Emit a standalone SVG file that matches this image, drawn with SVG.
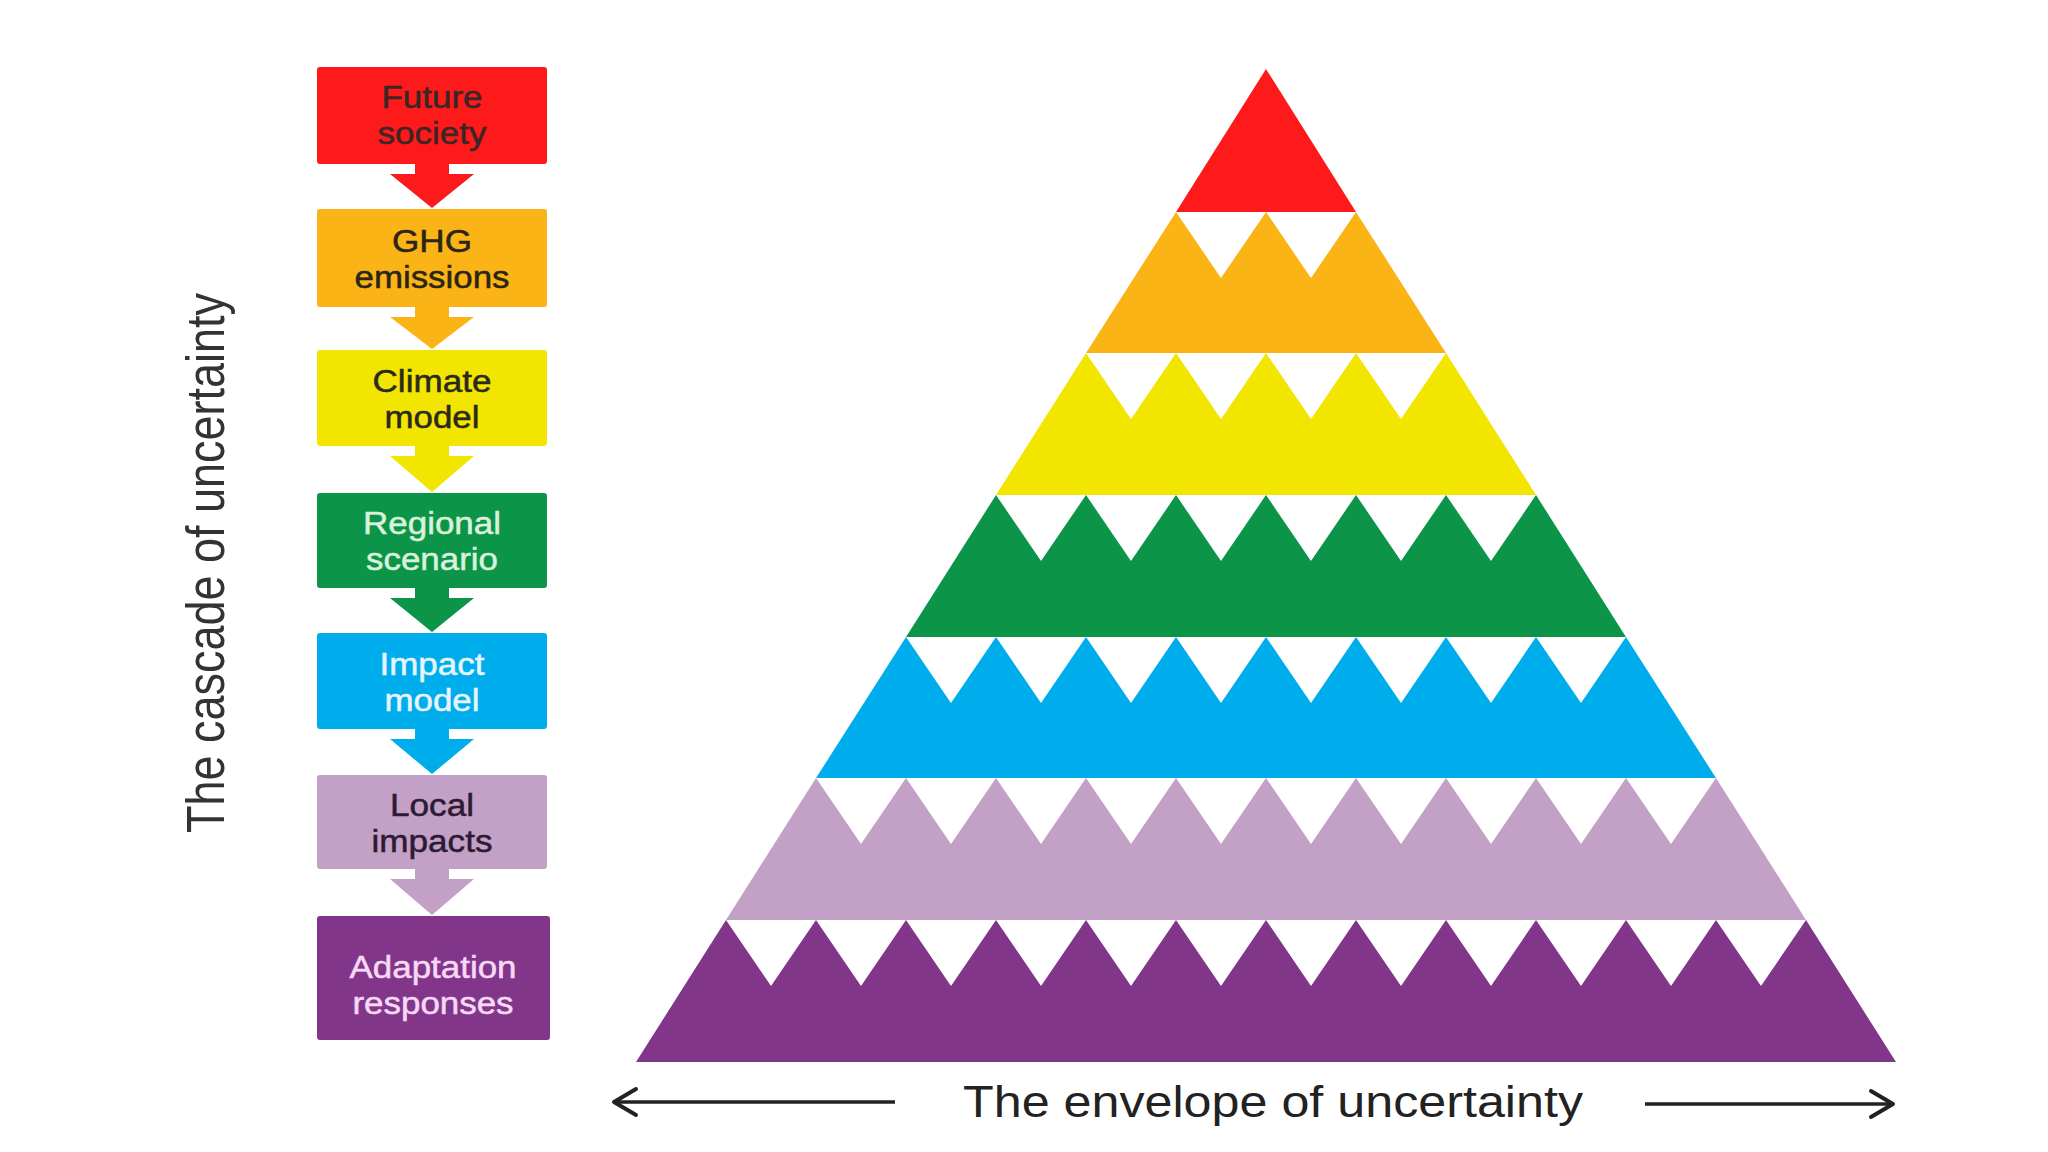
<svg xmlns="http://www.w3.org/2000/svg" width="2048" height="1152" viewBox="0 0 2048 1152">
<defs>
<style>
.box{stroke:none}
.lbl{font-family:"Liberation Sans",Arial,sans-serif;font-size:31px;text-anchor:middle;stroke-width:0.5px}
.big{font-family:"Liberation Sans",Arial,sans-serif;font-size:45px;text-anchor:middle}
.axis{stroke:#222;stroke-width:3.5;fill:none}
.red{fill:#FE1A1A}.org{fill:#FBB416}.yel{fill:#F2E500}.grn{fill:#0C9548}.blu{fill:#00ADEC}.lil{fill:#C3A0C6}.pur{fill:#82368A}
.t1{fill:#3a2626;stroke:#3a2626}.t2{fill:#2b2417;stroke:#2b2417}.t3{fill:#2a2a1a;stroke:#2a2a1a}
.t4{fill:#d9f2dc;stroke:#d9f2dc}.t5{fill:#e6f5fd;stroke:#e6f5fd}.t6{fill:#2d1a33;stroke:#2d1a33}.t7{fill:#f7d9f5;stroke:#f7d9f5}
</style>
<marker id="chev" markerUnits="userSpaceOnUse" markerWidth="40" markerHeight="40" viewBox="-30 -20 40 40" refX="0" refY="0" orient="auto">
<path d="M-22,-13 L0,0 L-22,13" fill="none" stroke="#222" stroke-width="4" stroke-linecap="round" stroke-linejoin="round"/>
</marker>
</defs>
<rect width="2048" height="1152" fill="#ffffff"/>

<g id="cascade-label">
<text class="big" fill="#333" transform="translate(224,563) scale(1.2,1) rotate(-90)" x="0" y="0">The cascade of uncertainty</text>
</g>

<g id="connectors">
<polygon class="red" points="415,163 449,163 449,174 474,174 432,208 390,174 415,174"/>
<polygon class="org" points="415,306 449,306 449,317 474,317 432,349 390,317 415,317"/>
<polygon class="yel" points="415,445 449,445 449,456 474,456 432,492 390,456 415,456"/>
<polygon class="grn" points="415,587 449,587 449,598 474,598 432,632 390,598 415,598"/>
<polygon class="blu" points="415,728 449,728 449,739 474,739 432,774 390,739 415,739"/>
<polygon class="lil" points="415,868 449,868 449,879 474,879 432,915 390,879 415,879"/>
</g>

<g id="node-future-society">
<rect class="box red" x="317" y="67" width="230" height="97" rx="3"/>
<text class="lbl t1" x="432" y="108" textLength="101" lengthAdjust="spacingAndGlyphs">Future</text>
<text class="lbl t1" x="432" y="144" textLength="109" lengthAdjust="spacingAndGlyphs">society</text>
</g>
<g id="node-ghg-emissions">
<rect class="box org" x="317" y="209" width="230" height="98" rx="3"/>
<text class="lbl t2" x="432" y="252" textLength="80" lengthAdjust="spacingAndGlyphs">GHG</text>
<text class="lbl t2" x="432" y="288" textLength="155" lengthAdjust="spacingAndGlyphs">emissions</text>
</g>
<g id="node-climate-model">
<rect class="box yel" x="317" y="350" width="230" height="96" rx="3"/>
<text class="lbl t3" x="432" y="392" textLength="119" lengthAdjust="spacingAndGlyphs">Climate</text>
<text class="lbl t3" x="432" y="428" textLength="95" lengthAdjust="spacingAndGlyphs">model</text>
</g>
<g id="node-regional-scenario">
<rect class="box grn" x="317" y="493" width="230" height="95" rx="3"/>
<text class="lbl t4" x="432" y="534" textLength="138" lengthAdjust="spacingAndGlyphs">Regional</text>
<text class="lbl t4" x="432" y="570" textLength="132" lengthAdjust="spacingAndGlyphs">scenario</text>
</g>
<g id="node-impact-model">
<rect class="box blu" x="317" y="633" width="230" height="96" rx="3"/>
<text class="lbl t5" x="432" y="675" textLength="105" lengthAdjust="spacingAndGlyphs">Impact</text>
<text class="lbl t5" x="432" y="711" textLength="95" lengthAdjust="spacingAndGlyphs">model</text>
</g>
<g id="node-local-impacts">
<rect class="box lil" x="317" y="775" width="230" height="94" rx="3"/>
<text class="lbl t6" x="432" y="816" textLength="84" lengthAdjust="spacingAndGlyphs">Local</text>
<text class="lbl t6" x="432" y="852" textLength="121" lengthAdjust="spacingAndGlyphs">impacts</text>
</g>
<g id="node-adaptation-responses">
<rect class="box pur" x="317" y="916" width="233" height="124" rx="3"/>
<text class="lbl t7" x="433" y="978" textLength="167" lengthAdjust="spacingAndGlyphs">Adaptation</text>
<text class="lbl t7" x="433" y="1014" textLength="161" lengthAdjust="spacingAndGlyphs">responses</text>
</g>

<g id="pyramid">
<polygon id="tier-red" class="red" points="1266,69 1356,212 1176,212"/>
<polygon id="tier-orange" class="org" points="1086,353 1176,212 1221,278 1266,212 1311,278 1356,212 1446,353"/>
<polygon id="tier-yellow" class="yel" points="996,495 1086,353 1131,419 1176,353 1221,419 1266,353 1311,419 1356,353 1401,419 1446,353 1536,495"/>
<polygon id="tier-green" class="grn" points="906,637 996,495 1041,561 1086,495 1131,561 1176,495 1221,561 1266,495 1311,561 1356,495 1401,561 1446,495 1491,561 1536,495 1626,637"/>
<polygon id="tier-blue" class="blu" points="816,778 906,637 951,703 996,637 1041,703 1086,637 1131,703 1176,637 1221,703 1266,637 1311,703 1356,637 1401,703 1446,637 1491,703 1536,637 1581,703 1626,637 1716,778"/>
<polygon id="tier-lilac" class="lil" points="726,920 816,778 861,844 906,778 951,844 996,778 1041,844 1086,778 1131,844 1176,778 1221,844 1266,778 1311,844 1356,778 1401,844 1446,778 1491,844 1536,778 1581,844 1626,778 1671,844 1716,778 1806,920"/>
<polygon id="tier-purple" class="pur" points="636,1062 726,920 771,986 816,920 861,986 906,920 951,986 996,920 1041,986 1086,920 1131,986 1176,920 1221,986 1266,920 1311,986 1356,920 1401,986 1446,920 1491,986 1536,920 1581,986 1626,920 1671,986 1716,920 1761,986 1806,920 1896,1062"/>
</g>

<g id="envelope-label">
<line class="axis" x1="895" y1="1102" x2="614" y2="1102" marker-end="url(#chev)"/>
<line class="axis" x1="1645" y1="1104" x2="1893" y2="1104" marker-end="url(#chev)"/>
<text class="big" fill="#222" x="1273" y="1117" textLength="620" lengthAdjust="spacingAndGlyphs">The envelope of uncertainty</text>
</g>
</svg>
